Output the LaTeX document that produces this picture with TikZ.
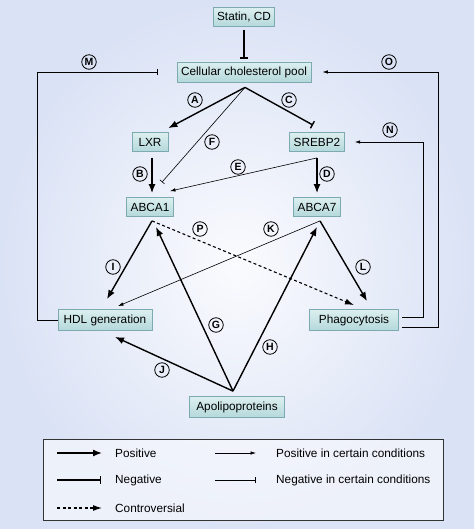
\documentclass[tikz,border=0pt]{standalone}
\usepackage{fontspec}
\setmainfont{Liberation Sans}
\usetikzlibrary{arrows.meta}
\definecolor{bgout}{RGB}{218,226,245}
\definecolor{bgin}{RGB}{250,251,254}
\definecolor{boxtop}{RGB}{220,239,240}
\definecolor{boxbot}{RGB}{180,216,218}
\definecolor{boxedge}{RGB}{124,170,176}
\tikzset{
  treenode/.style = {align=center, text centered, font=\fontsize{11.8}{13}\selectfont},
  % box node: teal rectangle
  box_U/.style = {treenode, rectangle, draw=boxedge, line width=0.8pt, top color=boxtop, bottom color=boxbot,
    inner xsep=4pt, inner ysep=0pt, minimum height=19pt},
  % circled letter
  lbl_U/.style = {circle, draw=black, line width=0.8pt, inner sep=0pt, minimum size=14.5pt,
    font=\fontsize{10.5}{10.5}\selectfont\bfseries},
  arr_P/.style = {line width=1.4pt, -{Latex[length=9pt,width=7pt]}},
  arr_Pc/.style = {line width=0.6pt, -{Latex[length=5.5pt,width=3.5pt]}},
  arr_N/.style = {line width=1.4pt, -{Bar[width=8pt,line width=1.4pt]}},
  arr_Nc/.style = {line width=0.6pt, -{Bar[width=6pt,line width=0.6pt]}},
  arr_C/.style = {line width=1.1pt, dash pattern=on 3pt off 2.5pt, -{Latex[length=9pt,width=6pt]}},
  leg_U/.style = {treenode, anchor=west, inner sep=0pt}
}
\begin{document}
\begin{tikzpicture}[x=1pt,y=-1pt]
    \useasboundingbox (0,0) rectangle (474,529);
    \shade[inner color=bgin, outer color=bgout] (0,0) rectangle (474,529);
    % Boxes:
    \node [box_U] (statin) at (244,17) {Statin, CD};
    \node [box_U, minimum height=20pt] (pool) at (244,72) {Cellular cholesterol pool};
    \node [box_U, minimum width=36pt] (lxr) at (150,142) {LXR};
    \node [box_U] (srebp) at (317,142) {SREBP2};
    \node [box_U] (abca1) at (150,207) {ABCA1};
    \node [box_U] (abca7) at (317,207) {ABCA7};
    \node [box_U, minimum width=94pt, minimum height=21pt] (hdl) at (105,320) {HDL generation};
    \node [box_U, minimum width=89pt, minimum height=21pt] (phago) at (354,320) {Phagocytosis};
    \node [box_U, minimum width=95pt, minimum height=21pt] (apo) at (237,407) {Apolipoproteins};
    % Branch points:
    \coordinate (poolout) at ([xshift=1pt,yshift=-5pt]pool.south);
    \coordinate (lxrout) at ([xshift=2pt,yshift=-6pt]lxr.south);
    \coordinate (srebpout) at ([yshift=-6pt]srebp.south);
    \coordinate (a1out) at ([xshift=2pt,yshift=-4pt]abca1.south);
    \coordinate (a7out) at ([xshift=3pt,yshift=-4pt]abca7.south);
    \coordinate (apoout) at ([xshift=-4pt,yshift=5pt]apo.north);
    % Connectors:
    \draw [arr_N, line width=1.1pt] ([yshift=-3pt]statin.south) -- ([yshift=3pt]pool.north);
    \draw [arr_P] (poolout) -- ([yshift=4pt]lxr.north east);
    \draw [arr_N] (poolout) -- ([xshift=-4pt,yshift=7pt]srebp.north);
    \draw [arr_Nc] (poolout) -- ([xshift=12pt,yshift=15pt]abca1.north);
    \draw [arr_P] (lxrout) -- ([xshift=2pt,yshift=4pt]abca1.north);
    \draw [arr_Pc] (srebpout) -- ([xshift=20pt,yshift=6pt]abca1.north);
    \draw [arr_P] (srebpout) -- ([yshift=4pt]abca7.north);
    \draw [arr_P] (a1out) -- ([xshift=2pt,yshift=10pt]hdl.north);
    \draw [arr_C] (a1out) -- ([yshift=4pt]phago.north);
    \draw [arr_Pc] (a7out) -- ([xshift=13pt,yshift=3pt]hdl.north);
    \draw [arr_P] (a7out) -- ([xshift=13pt,yshift=8pt]phago.north);
    \draw [arr_P] (apoout) -- ([xshift=6pt,yshift=-10pt]abca1.south);
    \draw [arr_P] (apoout) -- ([yshift=-10pt]abca7.south);
    \draw [arr_P] (apoout) -- ([xshift=10pt,yshift=-6pt]hdl.south);
    % Feedback loops:
    \draw [arr_Nc, line width=0.8pt] (hdl.west) -- ++(-20,0) |- ([xshift=-19pt]pool.west);
    \draw [arr_Pc, line width=0.8pt] ([xshift=3pt,yshift=-7pt]phago.east) -- (438,327) |- ([xshift=11pt]pool.east);
    \draw [arr_Pc, line width=0.8pt] ([xshift=3pt,yshift=3pt]phago.east) -- (423,317) |- ([xshift=10pt]srebp.east);
    % Letters:
    \node [lbl_U] (lM) at (89,62) {M};
    \node [lbl_U] (lO) at (389,62) {O};
    \node [lbl_U] (lA) at (195,100) {A};
    \node [lbl_U] (lC) at (289,100) {C};
    \node [lbl_U] (lN) at (390,130) {N};
    \node [lbl_U] (lF) at (212,142) {F};
    \node [lbl_U] (lE) at (238,167) {E};
    \node [lbl_U] (lB) at (140,174) {B};
    \node [lbl_U] (lD) at (327,174) {D};
    \node [lbl_U] (lP) at (200,229) {P};
    \node [lbl_U] (lK) at (271,229) {K};
    \node [lbl_U] (lI) at (113,267) {I};
    \node [lbl_U] (lL) at (363,267) {L};
    \node [lbl_U] (lG) at (216,325) {G};
    \node [lbl_U] (lH) at (270,347) {H};
    \node [lbl_U] (lJ) at (162,370) {J};
    % Legend:
    \draw [line width=0.8pt, draw=black!80, fill=bgin, fill opacity=0.6] (43,439) rectangle (443,520);
    \coordinate (p1) at (57,453); \coordinate (p2) at (102,453);
    \coordinate (pc1) at (215,453); \coordinate (pc2) at (256,453);
    \coordinate (n1) at (57,480); \coordinate (n2) at (101,480);
    \coordinate (nc1) at (215,480); \coordinate (nc2) at (256,480);
    \coordinate (c1) at (57,508); \coordinate (c2) at (102,508);
    \draw [arr_P] (p1) -- (p2);
    \draw [arr_Pc] (pc1) -- (pc2);
    \draw [arr_N] (n1) -- (n2);
    \draw [arr_Nc] (nc1) -- (nc2);
    \draw [arr_C] (c1) -- (c2);
    \node [leg_U] (tp) at (115,453) {Positive};
    \node [leg_U] (tpc) at (276,453) {Positive in certain conditions};
    \node [leg_U] (tn) at (115,480) {Negative};
    \node [leg_U] (tnc) at (276,480) {Negative in certain conditions};
    \node [leg_U] (tc) at (115,508) {Controversial};
\end{tikzpicture}
\end{document}
